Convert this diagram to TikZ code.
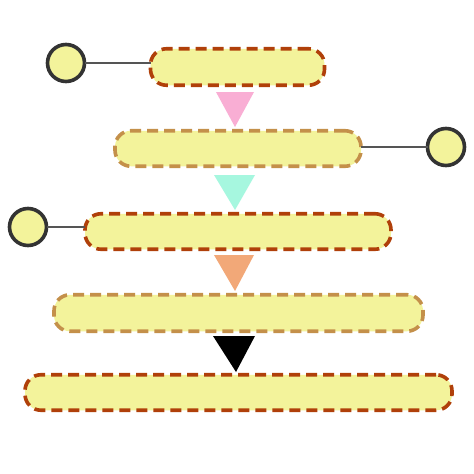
\documentclass[tikz,border=0pt]{standalone}
\usetikzlibrary{calc}
\definecolor{barfill}{HTML}{F3F39B}
\definecolor{darkedge}{HTML}{B0400A}
\definecolor{tanedge}{HTML}{C4904A}
\definecolor{ringedge}{HTML}{333333}
\definecolor{linkgray}{HTML}{555555}
\definecolor{tripink}{HTML}{F9AED4}
\definecolor{trimint}{HTML}{A6F7DF}
\definecolor{triorange}{HTML}{F2A878}
\tikzset{
  bar/.style={draw, fill=barfill, line width=3.6pt, dash pattern=on 11pt off 6pt,
    rounded corners=16pt, inner sep=0pt, outer sep=0pt},
  darkbar/.style={bar, draw=darkedge},
  tanbar/.style={bar, draw=tanedge},
  ring/.style={circle, draw=ringedge, fill=barfill, line width=3.6pt,
    minimum size=37pt, inner sep=0pt, outer sep=0pt},
  link/.style={draw=linkgray, line width=1.5pt}
}
\begin{document}
\begin{tikzpicture}[x=1pt,y=-1pt]
\useasboundingbox (0,0) rectangle (474,474);
\fill[white] (0,0) rectangle (474,474);
% bars
\node[darkbar, minimum width=174pt, minimum height=36.5pt] (b1) at (237.5,67) {};
\node[tanbar,  minimum width=246pt, minimum height=35.5pt] (b2) at (238,148.5) {};
\node[darkbar, minimum width=306pt, minimum height=35.5pt] (b3) at (238,231.5) {};
\node[tanbar,  minimum width=369pt, minimum height=36.5pt] (b4) at (238.5,313) {};
\node[darkbar, minimum width=427pt, minimum height=35.5pt] (b5) at (238.5,392.5) {};
% circles
\node[ring] (c1) at (66,63) {};
\node[ring] (c2) at (446,147) {};
\node[ring] (c3) at (28,227) {};
% connectors
\draw[link] (c1.east) -- (c1.east -| b1.west);
\draw[link] (c2.west) -- (c2.west -| b2.east);
\draw[link] (c3.east) -- (c3.east -| b3.west);
% triangles
\fill[tripink]   (216,92)  -- (254,92)  -- (235,127) -- cycle;
\fill[trimint]   (214,175) -- (255,175) -- (235,210) -- cycle;
\fill[triorange] (214,255) -- (254,255) -- (235,291) -- cycle;
\fill[black]     (213,336) -- (255,336) -- (236,372) -- cycle;
\end{tikzpicture}
\end{document}
